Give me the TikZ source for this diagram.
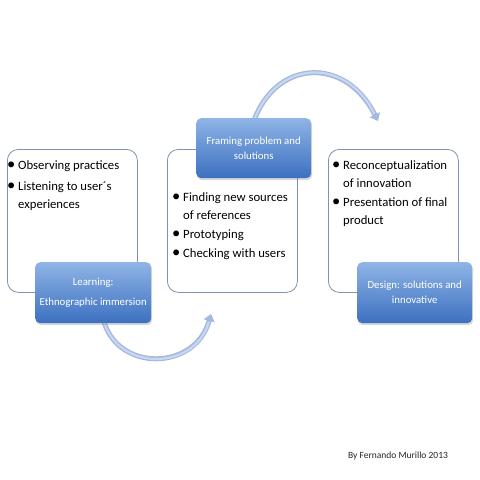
\documentclass[tikz,border=0pt]{standalone}
\usepackage{fontspec}
\setmainfont{Carlito}
\usetikzlibrary{arrows.meta,shadows}
\definecolor{boxline}{HTML}{7F92B0}
\definecolor{bluetop}{HTML}{8FB4E6}
\definecolor{bluebot}{HTML}{3C70C0}
\definecolor{arrowout}{HTML}{A3B9DF}
\definecolor{arrowin}{HTML}{C9D7EF}
\newcommand\bul{\makebox[6pt][c]{\scalebox{1.3}{\textbullet}}\hspace{4pt}}
\tikzset{
  whitebox/.style={draw=boxline, line width=0.8pt, rounded corners=11pt, fill=white, anchor=north west, inner sep=0pt},
  bluebox/.style={rounded corners=5pt, top color=bluetop, bottom color=bluebot, draw=none,
    text=white, font=\fontsize{10.8}{15}\selectfont, align=center, anchor=north west, inner sep=0pt,
    drop shadow={opacity=0.3, shadow xshift=1pt, shadow yshift=-2pt}},
  bullettext/.style={anchor=north west, inner sep=0pt, font=\fontsize{12.7}{18}\selectfont, text=black},
  curvedarrow/.style={draw=arrowout, line width=5pt, -{Triangle[width=11pt,length=7pt]}},
  curvedinner/.style={draw=arrowin, line width=2.2pt, shorten >=8pt},
}
\begin{document}
\begin{tikzpicture}[x=1pt,y=-1pt]
\useasboundingbox (0,0) rectangle (480,480);
\fill[white] (0,0) rectangle (480,480);

% white content boxes
\node[whitebox, minimum width=130pt, minimum height=143pt] (box1) at (7,149) {};
\node[whitebox, minimum width=130pt, minimum height=143pt] (box2) at (167,149) {};
\node[whitebox, minimum width=130pt, minimum height=143pt] (box3) at (328,149) {};

% bullet texts
\node[bullettext] (t1) at (8,156.4) {\begin{tabular}{@{}l@{}}
\bul Observing practices\\[3pt]
\bul Listening to user´s\\
\hspace{10pt}experiences
\end{tabular}};
\node[bullettext] (t2) at (173,188.4) {\begin{tabular}{@{}l@{}}
\bul Finding new sources\\
\hspace{10pt}of references\\[1pt]
\bul Prototyping\\[1pt]
\bul Checking with users
\end{tabular}};
\node[bullettext] (t3) at (333,156.4) {\begin{tabular}{@{}l@{}}
\bul Reconceptualization\\
\hspace{10pt}of innovation\\[1pt]
\bul Presentation of final\\
\hspace{10pt}product
\end{tabular}};

% coordinates for free arrow ends
\coordinate (topend) at (378,121);
\coordinate (botend) at (211,314);

% curved arrows (behind the blue boxes)
\coordinate (topstart) at (253.5,122);
\coordinate (botstart) at (103,318);
\draw[curvedarrow] (topstart) .. controls (275,60) and (345,55) .. (topend);
\draw[curvedinner] (topstart) .. controls (275,60) and (345,55) .. (topend);
\draw[curvedarrow] (botstart) .. controls (115,372) and (195,372) .. (botend);
\draw[curvedinner] (botstart) .. controls (115,372) and (195,372) .. (botend);

% blue title boxes
\node[bluebox, minimum width=116pt, minimum height=61pt] (learning) at (35,262)
  {Learning:\\[5pt]Ethnographic immersion};
\node[bluebox, minimum width=115pt, minimum height=60pt] (framing) at (196,118)
  {Framing problem and\\solutions};
\node[bluebox, minimum width=115pt, minimum height=61pt] (design) at (357,262)
  {Design: solutions and\\innovative};

% signature
\node[font=\fontsize{9.5}{11}\selectfont, text=black!85, inner sep=0pt] (sig) at (398,456) {By Fernando Murillo 2013};
\end{tikzpicture}
\end{document}
